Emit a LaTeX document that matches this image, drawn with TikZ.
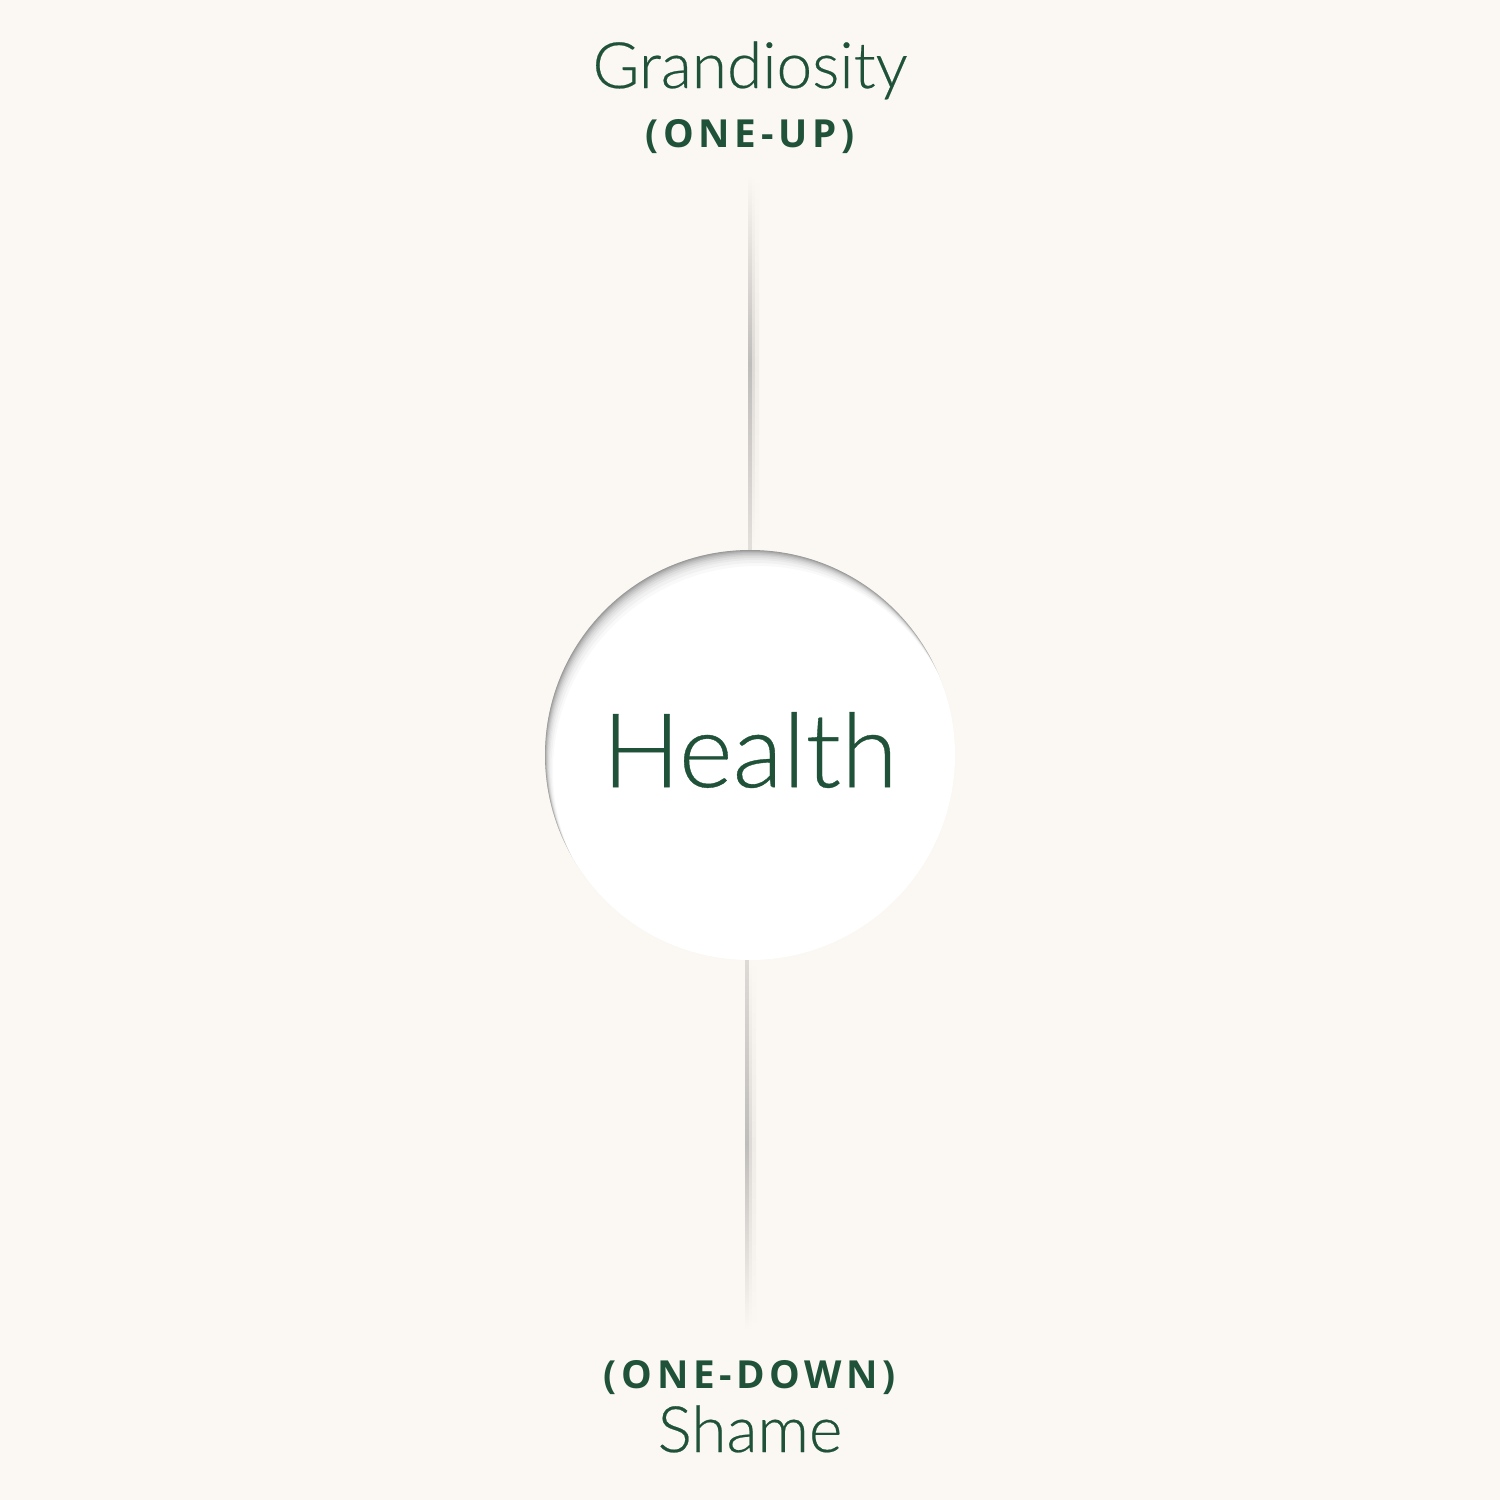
\documentclass[tikz,border=0pt]{standalone}
\usepackage{fontspec}
\setmainfont{Lato Light}[FakeBold=0.35]
\newfontfamily\capsfont[LetterSpace=12]{Open Sans}
\usetikzlibrary{calc}
\definecolor{bg}{HTML}{FBF7F2}
\definecolor{ink}{HTML}{1F5238}
\definecolor{shadowgray}{HTML}{BFBDBB}
\tikzset{
  title/.style={text=ink, inner sep=0pt, anchor=base, font=\fontsize{18.2}{19}\selectfont},
  tag/.style={text=ink, inner sep=0pt, anchor=base, font=\capsfont\bfseries\fontsize{11}{12}\selectfont},
  centre/.style={circle, fill=white, minimum size=4.1cm, inner sep=0pt},
}
\begin{document}
\begin{tikzpicture}
\fill[bg] (0,0) rectangle (15,-15);
\useasboundingbox (0,0) rectangle (15,-15);
% lines
\coordinate (t1) at (7.50,-1.75);
\coordinate (t2) at (7.50,-5.52);
\coordinate (b1) at (7.47,-9.58);
\coordinate (b2) at (7.47,-13.30);
\shade[top color=bg, bottom color=shadowgray!40!bg, middle color=shadowgray] ($(t1)+(-0.02,0)$) rectangle ($(t2)+(0.02,0)$);
\shade[top color=bg, bottom color=bg, middle color=shadowgray!50!bg] ($(t1)+(0.02,0)$) rectangle ($(t2)+(0.05,0)$);
\shade[top color=bg, bottom color=bg, middle color=shadowgray!20!bg] ($(t1)+(0.05,0)$) rectangle ($(t2)+(0.09,0)$);
\shade[top color=shadowgray!50!bg, bottom color=bg, middle color=shadowgray] ($(b1)+(-0.02,0)$) rectangle ($(b2)+(0.02,0)$);
\shade[top color=bg, bottom color=bg, middle color=shadowgray!50!bg] ($(b1)+(0.02,0)$) rectangle ($(b2)+(0.05,0)$);
\shade[top color=bg, bottom color=bg, middle color=shadowgray!20!bg] ($(b1)+(0.05,0)$) rectangle ($(b2)+(0.09,0)$);
% circle
\node[centre] (health) at (7.50,-7.55) {};
\begin{scope}
  \clip (health.center) circle (2.05);
  \foreach \d/\o in {0.16/0.025,0.13/0.03,0.10/0.035,0.08/0.04,0.06/0.05,0.045/0.06,0.03/0.07,0.018/0.08,0.008/0.09} {
    \fill[black, opacity=\o, even odd rule] (health.center) circle (2.3)
      ($(health.center)+(\d*0.5,-\d)$) circle (2.05);
  }
\end{scope}
\node[text=ink, inner sep=0pt, font=\fontsize{29.4}{31}\selectfont] (healthtext) at (7.50,-7.50) {Health};
% labels
\node[title] (grand) at (7.50,-0.88) {Grandiosity};
\node[tag] (oneup) at (7.50,-1.47) {(ONE-UP)};
\node[tag] (onedown) at (7.50,-13.88) {(ONE-DOWN)};
\node[title] (shame) at (7.50,-14.52) {Shame};
\end{tikzpicture}
\end{document}
